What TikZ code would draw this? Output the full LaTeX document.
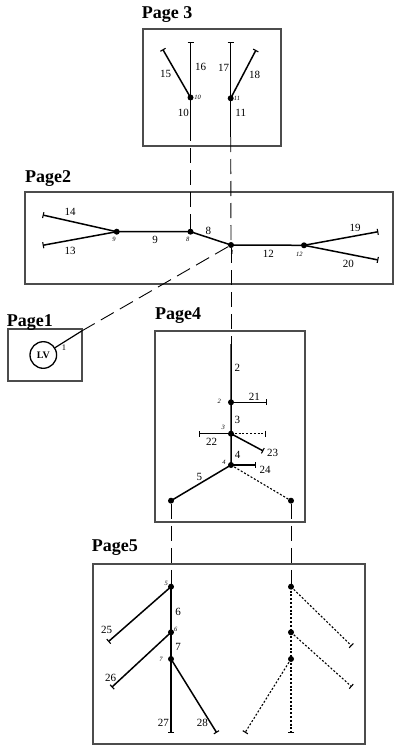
\documentclass[tikz,border=0pt]{standalone}
\usepackage{fontspec}
\setmainfont{Liberation Serif}
\usetikzlibrary{arrows.meta}
\begin{document}
\begin{tikzpicture}[x=1pt,y=-1pt,
 dot/.style={circle,fill,inner sep=0pt,minimum size=6pt},
 seg/.style={line width=1.5pt},
 tend/.style={-{Bar[width=6pt,line width=1.1pt]}},
 conn/.style={line width=0.9pt,dash pattern=on 15pt off 7pt},
 dotl/.style={line width=1.1pt,dash pattern=on 2pt off 1.8pt},
 pbox/.style={draw=black!70,line width=1.2pt},
 ttl/.style={font=\bfseries\fontsize{18}{18}\selectfont,anchor=base west,inner sep=0pt},
 lab/.style={font=\fontsize{11}{11}\selectfont,inner sep=0pt},
 sml/.style={font=\itshape\fontsize{6.5}{6.5}\selectfont,inner sep=0pt}
]
\useasboundingbox (0,0) rectangle (400,749);
% boxes
\draw[pbox] (143,29) rectangle (281,146);
\draw[pbox] (25,192) rectangle (393,284);
\draw[pbox] (8,329) rectangle (82,381);
\draw[pbox] (155,331) rectangle (305,522);
\draw[pbox] (93,564) rectangle (365,744);
% titles
\node[ttl] (t3) at (141.7,19) {Page 3};
\node[ttl] (t2) at (25,182.3) {Page2};
\node[ttl] (t1) at (6.7,326) {Page1};
\node[ttl] (t4) at (155,319) {Page4};
\node[ttl] (t5) at (91.7,551.7) {Page5};
% Page 3
\node[dot] (n10) at (190.5,97.5) {};
\node[dot] (n11) at (230.7,98.3) {};
\coordinate (e16) at (190.5,42);
\coordinate (e15) at (162.7,49.3);
\coordinate (e17) at (230.7,42);
\coordinate (e18) at (256,50);
\coordinate (b10) at (190.5,126);
\coordinate (b11) at (230.7,137);
\draw[seg,tend] (n10.center) -- (e16);
\draw[seg,tend] (n10.center) -- (e15);
\draw[seg,tend] (n11.center) -- (e17);
\draw[seg,tend] (n11.center) -- (e18);
\draw[seg] (n10.center) -- (b10);
\draw[seg] (n11.center) -- (b11);
% Page 2
\node[dot] (n9) at (116.7,231.7) {};
\node[dot] (n8) at (190.5,231.7) {};
\node[dot] (n1) at (231,245) {};
\node[dot] (n12) at (304,245.3) {};
\coordinate (e14) at (42.7,215);
\coordinate (e13) at (42.7,245.3);
\coordinate (e19) at (378.3,231.7);
\coordinate (e20) at (378.3,260);
\draw[seg] (n9.center) -- (n8.center) -- (n1.center) -- (n12.center);
\draw[seg,tend] (n9.center) -- (e14);
\draw[seg,tend] (n9.center) -- (e13);
\draw[seg,tend] (n12.center) -- (e19);
\draw[seg,tend] (n12.center) -- (e20);
\draw[conn] (b10) -- (n8);
\draw[conn] (b11) -- (n1);
% Page 1
\node[circle,draw,line width=1.3pt,minimum size=26.6pt,inner sep=0pt,font=\bfseries\fontsize{10}{10}\selectfont] (lv) at (43.3,355) {LV};
\coordinate (p1) at (81.7,331);
\draw[line width=1.2pt] (lv) -- (p1);
\draw[conn] (p1) -- (n1);
% Page 4
\coordinate (t2c) at (231,344);
\node[dot] (n2) at (231,402.3) {};
\node[dot] (n3) at (231,433.7) {};
\node[dot] (n4) at (231,465) {};
\node[dot] (nL) at (171,500.7) {};
\node[dot] (nR) at (291,500.7) {};
\coordinate (e21) at (266.7,402.3);
\coordinate (e22) at (199.3,433.7);
\coordinate (e3r) at (266,433.7);
\coordinate (e23) at (263.3,451);
\coordinate (e24) at (256,465);
\draw[conn] (n1) -- (t2c);
\draw[seg] (t2c) -- (n2.center) -- (n3.center) -- (n4.center) -- (nL.center);
\draw[seg,tend] (n2.center) -- (e21);
\draw[seg,tend] (n3.center) -- (e22);
\draw[seg,tend] (n3.center) -- (e23);
\draw[seg,tend] (n4.center) -- (e24);
\draw[dotl,tend] (n3.center) -- (e3r);
\draw[dotl] (n4.center) -- (nR.center);
% Page 5
\node[dot] (n5) at (171,586.7) {};
\node[dot] (n6) at (171,632.3) {};
\node[dot] (n7) at (171,659) {};
\coordinate (e25) at (108.3,641.7);
\coordinate (e26) at (111.7,687.3);
\coordinate (e27) at (171,732.7);
\coordinate (e28) at (216.7,732.7);
\draw[seg] (n5.center) -- (n6.center) -- (n7.center);
\draw[seg,tend] (n7.center) -- (e27);
\draw[seg,tend] (n7.center) -- (e28);
\draw[seg,tend] (n5.center) -- (e25);
\draw[seg,tend] (n6.center) -- (e26);
\node[dot] (r5) at (291,586.7) {};
\node[dot] (r6) at (291,632.3) {};
\node[dot] (r7) at (291,659) {};
\coordinate (f1) at (351.7,646);
\coordinate (f2) at (351.7,686.7);
\coordinate (f3) at (291,732.7);
\coordinate (f4) at (245,732.7);
\draw[dotl] (r5.center) -- (r6.center) -- (r7.center);
\draw[dotl,tend] (r7.center) -- (f3);
\draw[dotl,tend] (r7.center) -- (f4);
\draw[dotl,tend] (r5.center) -- (f1);
\draw[dotl,tend] (r6.center) -- (f2);
\draw[conn] (nL) -- (n5);
\draw[conn] (nR) -- (r5);
% labels page 3
\node[lab] (l15) at (165.7,74) {15};
\node[lab] (l16) at (200.7,66.7) {16};
\node[lab] (l17) at (223.7,67.7) {17};
\node[lab] (l18) at (254.7,75) {18};
\node[lab] (l10) at (183.3,112.7) {10};
\node[lab] (l11) at (240.7,113.3) {11};
\node[sml] (s10) at (197.5,97.5) {10};
\node[sml] (s11) at (237,98.3) {11};
% labels page 2
\node[lab] (l14) at (70,212.3) {14};
\node[lab] (l13) at (70,251) {13};
\node[lab] (l9) at (155,240) {9};
\node[lab] (l8) at (208.3,231.2) {8};
\node[lab] (l12) at (268.3,254.3) {12};
\node[lab] (l19) at (355,228.3) {19};
\node[lab] (l20) at (348.3,264) {20};
\node[sml] (s9) at (114,239.5) {9};
\node[sml] (s8) at (187.7,239.5) {8};
\node[sml] (s1) at (232.3,252) {1};
\node[sml] (s12) at (299.3,254.3) {12};
% label page 1
\node[lab,font=\fontsize{8.5}{8.5}\selectfont] (l1) at (64,347.3) {1};
% labels page 4
\node[lab] (l2) at (237.3,368.3) {2};
\node[lab] (l21) at (254.3,396.7) {21};
\node[sml] (s2) at (219.3,401.7) {2};
\node[lab] (l3) at (237.3,420) {3};
\node[sml] (s3) at (223.3,427.3) {3};
\node[lab] (l22) at (211.7,442.3) {22};
\node[lab] (l23) at (272.7,452.7) {23};
\node[lab] (l4) at (237.7,455) {4};
\node[sml] (s4) at (224,462.7) {4};
\node[lab] (l24) at (265,470) {24};
\node[lab] (l5) at (199.3,476.7) {5};
% labels page 5
\node[lab] (l25) at (106.7,630) {25};
\node[lab] (l26) at (110.7,677.7) {26};
\node[lab] (l6) at (178,611.7) {6};
\node[lab] (l7) at (178,646.7) {7};
\node[lab] (l27) at (163.3,723.3) {27};
\node[lab] (l28) at (202.3,723.3) {28};
\node[sml] (s5) at (166.3,583.3) {5};
\node[sml] (s6) at (175.7,629.3) {6};
\node[sml] (s7) at (161,659.3) {7};
\end{tikzpicture}
\end{document}
